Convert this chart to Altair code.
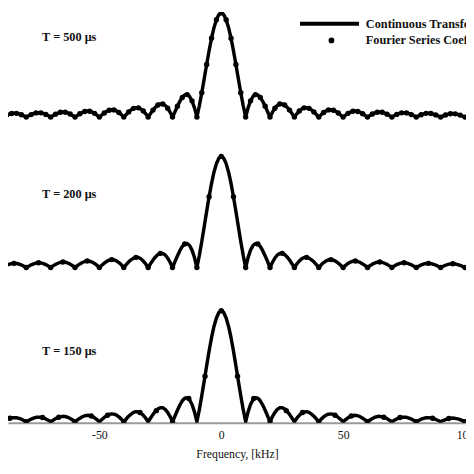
import altair as alt
import pandas as pd

# |X(f)| normalised, read at 1 kHz steps from 0 to 100 kHz (curve is symmetric)
curve_pos = [1.0, 0.984, 0.935, 0.858, 0.757, 0.637, 0.505, 0.368, 0.234, 0.109, 0.0,
             0.089, 0.156, 0.198, 0.216, 0.212, 0.189, 0.151, 0.104, 0.052, 0.0,
             0.047, 0.085, 0.112, 0.126, 0.127, 0.116, 0.095, 0.067, 0.034, 0.0,
             0.032, 0.058, 0.078, 0.089, 0.091, 0.084, 0.069, 0.050, 0.025, 0.0,
             0.024, 0.044, 0.060, 0.069, 0.071, 0.066, 0.055, 0.039, 0.020, 0.0,
             0.019, 0.036, 0.049, 0.056, 0.058, 0.054, 0.045, 0.032, 0.017, 0.0,
             0.016, 0.030, 0.041, 0.047, 0.049, 0.046, 0.038, 0.028, 0.014, 0.0,
             0.014, 0.026, 0.035, 0.041, 0.042, 0.040, 0.033, 0.024, 0.012, 0.0,
             0.012, 0.023, 0.031, 0.036, 0.037, 0.035, 0.029, 0.021, 0.011, 0.0,
             0.011, 0.020, 0.028, 0.032, 0.034, 0.031, 0.026, 0.019, 0.010, 0.0]

# T = 150 us coefficients, read at n * 6.67 kHz (positive side)
coef150_freq = [0, 6.67, 13.33, 20, 26.67, 33.33, 40, 46.67, 53.33, 60, 66.67, 73.33, 80, 86.67, 93.33, 100]
coef150_mag = [1.0, 0.41, 0.21, 0.0, 0.10, 0.083, 0.0, 0.059, 0.052, 0.0, 0.041, 0.038, 0.0, 0.032, 0.030, 0.0]

panel_labels = ["T = 500 \u03bcs", "T = 200 \u03bcs", "T = 150 \u03bcs"]
legend_labels = ["Continuous Transform", "Fourier Series Coefficients"]
x_ticks = [-50, 0, 50, 100]

F_MIN, F_MAX = -87.5, 100.4
FONT = "Liberation Serif"

freqs = list(range(-90, 101))
curve = pd.DataFrame({"f": freqs, "m": [curve_pos[abs(f)] for f in freqs]})
dots500 = curve[curve["f"] % 2 == 0]
dots200 = curve[curve["f"] % 5 == 0]
neg = [(-f, m) for f, m in zip(coef150_freq, coef150_mag) if f > 0 and f <= 90]
dots150 = pd.DataFrame({"f": [p[0] for p in neg] + coef150_freq,
                        "m": [p[1] for p in neg] + coef150_mag})

xscale = alt.Scale(domain=[F_MIN, F_MAX], nice=False, zero=False)
xaxis = alt.Axis(values=x_ticks, title="Frequency, [kHz]", grid=False,
                 tickSize=0, domainColor="#9a9a9a", domainWidth=2,
                 labelFont=FONT, labelFontSize=12, labelColor="#111",
                 labelExpr="datum.value < 0 ? '-' + abs(datum.value) : '' + datum.value",
                 labelFlush=False, labelPadding=7, labelOverlap=False,
                 titleFont=FONT, titleFontSize=12, titleFontWeight="normal",
                 titleColor="#111", titlePadding=8)
xenc = alt.X("f:Q", scale=xscale, axis=xaxis)

ranges = [[107, 1], [260, 147], [417, 304]]
dot_sets = [dots500, dots200, dots150]
label_y = [0.77, 0.66, 0.64]

layers = []
for i in range(3):
    ys = alt.Scale(domain=[0, 1], range=ranges[i], nice=False, zero=False)
    yenc = alt.Y("m:Q", scale=ys, axis=None)
    line = alt.Chart(curve).mark_line(color="black", strokeWidth=3.5, clip=True,
                                      strokeJoin="round").encode(x=xenc, y=yenc)
    pts = alt.Chart(dot_sets[i]).mark_circle(color="black", size=30, opacity=1,
                                             clip=True).encode(x=xenc, y=yenc)
    lab = alt.Chart(pd.DataFrame({"f": [-73.5], "m": [label_y[i]], "t": [panel_labels[i]]})
                    ).mark_text(align="left", baseline="middle", font=FONT, fontSize=12.5,
                                fontWeight=600, color="#111").encode(
        x=xenc, y=yenc, text="t:N")
    layers += [line, pts, lab]

# legend drawn in the top panel's scale
ys0 = alt.Scale(domain=[0, 1], range=ranges[0], nice=False, zero=False)
y0 = alt.Y("m:Q", scale=ys0, axis=None)
leg_line = alt.Chart(pd.DataFrame({"f": [32.3, 56.5], "m": [0.896, 0.896]})).mark_line(
    color="black", strokeWidth=4).encode(x=xenc, y=y0)
leg_dot = alt.Chart(pd.DataFrame({"f": [45.2], "m": [0.736]})).mark_circle(
    color="black", size=34, opacity=1).encode(x=xenc, y=y0)
leg_text = alt.Chart(pd.DataFrame({"f": [59.3, 59.3], "m": [0.896, 0.736], "t": legend_labels})
                     ).mark_text(align="left", baseline="middle", font=FONT, fontSize=12.5,
                                 fontWeight=600, color="#111").encode(x=xenc, y=y0, text="t:N")
layers += [leg_line, leg_dot, leg_text]

chart = alt.layer(*layers).resolve_scale(y="independent").properties(
    width=466, height=418,
    autosize=alt.AutoSizeParams(type="none"),
    padding={"left": 0, "top": 0, "right": 0, "bottom": 40},
    background="white",
).configure(font=FONT).configure_view(stroke=None).configure_axis(
    labelFont=FONT, titleFont=FONT, labelFontSize=12, titleFontSize=12
)

chart.save("out.html", embed_options={"renderer": "svg", "actions": False})
